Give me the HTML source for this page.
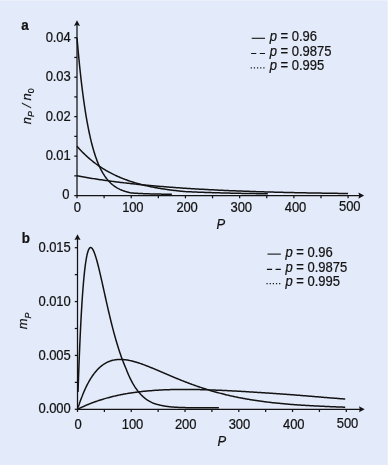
<!DOCTYPE html>
<html lang="en">
<head>
<meta charset="utf-8">
<title>Chain length distributions</title>
<style>
html,body{margin:0;padding:0;background:#e3eaf9;}
body{width:388px;height:465px;overflow:hidden;font-family:"Liberation Sans",Arial,sans-serif;}
svg{display:block;}
</style>
</head>
<body>
<svg width="388" height="465" viewBox="0 0 388 465">
<rect width="388" height="465" fill="#e3eaf9"/>
<rect width="388" height="1" fill="#ebf0fb"/>
<rect x="387" width="1" height="465" fill="#eaeffa"/>
<g stroke="#131313" stroke-width="1.25" fill="none">
<line x1="77.0" y1="195.6" x2="77.0" y2="24.5"/>
<line x1="77.0" y1="195.6" x2="359.8" y2="195.6"/>
<line x1="77.00" y1="195.6" x2="77.00" y2="198.29999999999998"/>
<line x1="131.22" y1="195.6" x2="131.22" y2="198.29999999999998"/>
<line x1="185.44" y1="195.6" x2="185.44" y2="198.29999999999998"/>
<line x1="239.66" y1="195.6" x2="239.66" y2="198.29999999999998"/>
<line x1="293.88" y1="195.6" x2="293.88" y2="198.29999999999998"/>
<line x1="348.10" y1="195.6" x2="348.10" y2="198.29999999999998"/>
<line x1="104.11" y1="195.6" x2="104.11" y2="198.29999999999998"/>
<line x1="158.33" y1="195.6" x2="158.33" y2="198.29999999999998"/>
<line x1="212.55" y1="195.6" x2="212.55" y2="198.29999999999998"/>
<line x1="266.77" y1="195.6" x2="266.77" y2="198.29999999999998"/>
<line x1="320.99" y1="195.6" x2="320.99" y2="198.29999999999998"/>
<line x1="77.0" y1="195.60" x2="74.3" y2="195.60"/>
<line x1="77.0" y1="156.12" x2="74.3" y2="156.12"/>
<line x1="77.0" y1="116.65" x2="74.3" y2="116.65"/>
<line x1="77.0" y1="77.18" x2="74.3" y2="77.18"/>
<line x1="77.0" y1="37.70" x2="74.3" y2="37.70"/>
<line x1="77.0" y1="175.86" x2="74.3" y2="175.86"/>
<line x1="77.0" y1="136.39" x2="74.3" y2="136.39"/>
<line x1="77.0" y1="96.91" x2="74.3" y2="96.91"/>
<line x1="77.0" y1="57.44" x2="74.3" y2="57.44"/>
</g>
<path d="M77.0,20.2 L80.05,25.9 L77.0,25.1 L73.95,25.9 Z" fill="#131313"/>
<path d="M364.1,195.6 L358.40000000000003,192.54999999999998 L359.2,195.6 L358.40000000000003,198.65 Z" fill="#131313"/>
<g fill="none" stroke="#131313" stroke-width="1.5" stroke-linejoin="round" stroke-linecap="butt">
<path d="M77.00,37.70 L77.48,43.27 L77.95,48.64 L78.43,53.82 L78.91,58.82 L79.38,63.64 L79.86,68.30 L80.34,72.79 L80.81,77.12 L81.29,81.29 L81.77,85.33 L82.24,89.21 L82.72,92.97 L83.20,96.58 L83.68,100.08 L84.15,103.44 L84.63,106.69 L85.11,109.83 L85.58,112.85 L86.06,115.77 L86.54,118.59 L87.01,121.30 L87.49,123.92 L87.97,126.45 L88.44,128.89 L88.92,131.24 L89.40,133.51 L89.87,135.70 L90.35,137.81 L90.83,139.85 L91.30,141.81 L91.78,143.71 L92.26,145.54 L92.73,147.31 L93.21,149.01 L93.69,150.65 L94.17,152.24 L94.64,153.77 L95.12,155.24 L95.60,156.66 L96.07,158.04 L96.55,159.36 L97.03,160.64 L97.50,161.87 L97.98,163.06 L98.46,164.21 L98.93,165.32 L99.41,166.38 L99.89,167.41 L100.36,168.41 L100.84,169.37 L101.32,170.29 L101.79,171.18 L102.27,172.05 L102.75,172.88 L103.22,173.68 L103.70,174.45 L104.18,175.20 L104.65,175.92 L105.13,176.61 L105.61,177.28 L106.09,177.93 L106.56,178.55 L107.04,179.15 L107.52,179.73 L107.99,180.29 L108.47,180.83 L108.95,181.35 L109.42,181.85 L109.90,182.34 L110.38,182.81 L110.85,183.26 L111.33,183.69 L111.81,184.11 L112.28,184.52 L112.76,184.91 L113.24,185.28 L113.71,185.65 L114.19,186.00 L114.67,186.34 L115.14,186.66 L115.62,186.98 L116.10,187.28 L116.58,187.58 L117.05,187.86 L117.53,188.13 L118.01,188.40 L118.48,188.65 L118.96,188.89 L119.44,189.13 L119.91,189.36 L120.39,189.58 L120.87,189.79 L121.34,190.00 L121.82,190.19 L122.30,190.38 L122.77,190.57 L123.25,190.75 L123.73,190.92 L124.20,191.08 L124.68,191.24 L125.16,191.40 L125.63,191.54 L126.11,191.69 L126.59,191.82 L127.06,191.96 L127.54,192.09 L128.02,192.21 L128.50,192.33 L128.97,192.44 L129.45,192.56 L129.93,192.66 L130.40,192.77 L130.88,192.87 L131.36,192.95 L131.83,192.98 L132.31,193.01 L132.79,193.05 L133.26,193.08 L133.74,193.11 L134.22,193.14 L134.69,193.17 L135.17,193.21 L135.65,193.24 L136.12,193.26 L136.60,193.29 L137.08,193.32 L137.55,193.35 L138.03,193.38 L138.51,193.40 L138.99,193.43 L139.46,193.45 L139.94,193.48 L140.42,193.50 L140.89,193.53 L141.37,193.55 L141.85,193.57 L142.32,193.60 L142.80,193.62 L143.28,193.64 L143.75,193.66 L144.23,193.68 L144.71,193.70 L145.18,193.72 L145.66,193.74 L146.14,193.75 L146.61,193.77 L147.09,193.79 L147.57,193.81 L148.04,193.82 L148.52,193.84 L149.00,193.85 L149.47,193.87 L149.95,193.88 L150.43,193.90 L150.91,193.91 L151.38,193.92 L151.86,193.94 L152.34,193.95 L152.81,193.96 L153.29,193.97 L153.77,193.99 L154.24,194.00 L154.72,194.01 L155.20,194.02 L155.67,194.03 L156.15,194.04 L156.63,194.05 L157.10,194.06 L157.58,194.07 L158.06,194.08 L158.53,194.09 L159.01,194.09 L159.49,194.10 L159.96,194.11 L160.44,194.12 L160.92,194.12 L161.40,194.13 L161.87,194.14 L162.35,194.15 L162.83,194.15 L163.30,194.16 L163.78,194.16 L164.26,194.17 L164.73,194.18 L165.21,194.18 L165.69,194.19 L166.16,194.19 L166.64,194.20 L167.12,194.20 L167.59,194.21 L168.07,194.21 L168.55,194.22 L169.02,194.22 L169.50,194.23 L169.98,194.23 L170.45,194.23 L170.93,194.24 L171.41,194.24 L171.88,194.24"/>
<path d="M77.00,146.26 L77.96,147.34 L78.92,148.40 L79.88,149.44 L80.84,150.46 L81.80,151.45 L82.75,152.42 L83.71,153.37 L84.67,154.30 L85.63,155.21 L86.59,156.10 L87.55,156.97 L88.51,157.82 L89.47,158.65 L90.43,159.46 L91.39,160.26 L92.35,161.04 L93.30,161.80 L94.26,162.54 L95.22,163.27 L96.18,163.98 L97.14,164.68 L98.10,165.36 L99.06,166.02 L100.02,166.67 L100.98,167.31 L101.94,167.93 L102.89,168.54 L103.85,169.14 L104.81,169.72 L105.77,170.29 L106.73,170.84 L107.69,171.39 L108.65,171.92 L109.61,172.44 L110.57,172.95 L111.53,173.45 L112.49,173.94 L113.44,174.41 L114.40,174.88 L115.36,175.34 L116.32,175.78 L117.28,176.22 L118.24,176.65 L119.20,177.06 L120.16,177.47 L121.12,177.87 L122.08,178.26 L123.04,178.64 L123.99,179.01 L124.95,179.38 L125.91,179.74 L126.87,180.08 L127.83,180.43 L128.79,180.76 L129.75,181.09 L130.71,181.41 L131.67,181.72 L132.63,182.02 L133.58,182.32 L134.54,182.61 L135.50,182.90 L136.46,183.18 L137.42,183.45 L138.38,183.72 L139.34,183.98 L140.30,184.24 L141.26,184.49 L142.22,184.73 L143.18,184.97 L144.13,185.21 L145.09,185.43 L146.05,185.66 L147.01,185.88 L147.97,186.09 L148.93,186.30 L149.89,186.50 L150.85,186.70 L151.81,186.90 L152.77,187.09 L153.73,187.28 L154.68,187.46 L155.64,187.64 L156.60,187.82 L157.56,187.99 L158.52,188.15 L159.48,188.32 L160.44,188.48 L161.40,188.64 L162.36,188.79 L163.32,188.94 L164.28,189.09 L165.23,189.23 L166.19,189.37 L167.15,189.51 L168.11,189.64 L169.07,189.77 L170.03,189.90 L170.99,190.02 L171.95,190.15 L172.91,190.27 L173.87,190.38 L174.82,190.50 L175.78,190.61 L176.74,190.72 L177.70,190.83 L178.66,190.93 L179.62,191.04 L180.58,191.14 L181.54,191.24 L182.50,191.33 L183.46,191.43 L184.42,191.52 L185.37,191.61 L186.33,191.65 L187.29,191.69 L188.25,191.74 L189.21,191.78 L190.17,191.82 L191.13,191.86 L192.09,191.90 L193.05,191.94 L194.01,191.98 L194.97,192.02 L195.92,192.06 L196.88,192.09 L197.84,192.13 L198.80,192.17 L199.76,192.21 L200.72,192.24 L201.68,192.28 L202.64,192.31 L203.60,192.35 L204.56,192.38 L205.52,192.42 L206.47,192.45 L207.43,192.48 L208.39,192.52 L209.35,192.55 L210.31,192.58 L211.27,192.61 L212.23,192.64 L213.19,192.67 L214.15,192.70 L215.11,192.73 L216.06,192.76 L217.02,192.79 L217.98,192.82 L218.94,192.85 L219.90,192.87 L220.86,192.90 L221.82,192.93 L222.78,192.95 L223.74,192.98 L224.70,193.00 L225.66,193.03 L226.61,193.05 L227.57,193.07 L228.53,193.10 L229.49,193.12 L230.45,193.14 L231.41,193.17 L232.37,193.19 L233.33,193.21 L234.29,193.23 L235.25,193.25 L236.21,193.27 L237.16,193.29 L238.12,193.31 L239.08,193.33 L240.04,193.35 L241.00,193.37 L241.96,193.39 L242.92,193.41 L243.88,193.42 L244.84,193.44 L245.80,193.46 L246.75,193.47 L247.71,193.49 L248.67,193.51 L249.63,193.52 L250.59,193.54 L251.55,193.55 L252.51,193.57 L253.47,193.58 L254.43,193.60 L255.39,193.61 L256.35,193.63 L257.30,193.64 L258.26,193.65 L259.22,193.67 L260.18,193.68 L261.14,193.69 L262.10,193.70 L263.06,193.72 L264.02,193.73 L264.98,193.74 L265.94,193.75 L266.90,193.76 L267.85,193.77"/>
<path d="M77.00,175.86 L78.36,176.11 L79.72,176.35 L81.09,176.59 L82.45,176.83 L83.81,177.07 L85.17,177.30 L86.54,177.53 L87.90,177.75 L89.26,177.98 L90.62,178.20 L91.99,178.41 L93.35,178.63 L94.71,178.84 L96.07,179.05 L97.43,179.26 L98.80,179.46 L100.16,179.66 L101.52,179.86 L102.88,180.06 L104.25,180.25 L105.61,180.44 L106.97,180.63 L108.33,180.82 L109.70,181.00 L111.06,181.19 L112.42,181.37 L113.78,181.54 L115.14,181.72 L116.51,181.89 L117.87,182.06 L119.23,182.23 L120.59,182.40 L121.96,182.56 L123.32,182.72 L124.68,182.88 L126.04,183.04 L127.41,183.20 L128.77,183.35 L130.13,183.50 L131.49,183.65 L132.85,183.80 L134.22,183.95 L135.58,184.09 L136.94,184.24 L138.30,184.38 L139.67,184.51 L141.03,184.65 L142.39,184.79 L143.75,184.92 L145.12,185.05 L146.48,185.18 L147.84,185.31 L149.20,185.44 L150.56,185.56 L151.93,185.69 L153.29,185.81 L154.65,185.93 L156.01,186.05 L157.38,186.17 L158.74,186.28 L160.10,186.40 L161.46,186.51 L162.83,186.62 L164.19,186.73 L165.55,186.84 L166.91,186.95 L168.27,187.05 L169.64,187.16 L171.00,187.26 L172.36,187.36 L173.72,187.46 L175.09,187.56 L176.45,187.66 L177.81,187.76 L179.17,187.85 L180.54,187.95 L181.90,188.04 L183.26,188.13 L184.62,188.22 L185.98,188.31 L187.35,188.40 L188.71,188.49 L190.07,188.57 L191.43,188.66 L192.80,188.74 L194.16,188.82 L195.52,188.91 L196.88,188.99 L198.25,189.07 L199.61,189.14 L200.97,189.22 L202.33,189.30 L203.69,189.37 L205.06,189.45 L206.42,189.52 L207.78,189.59 L209.14,189.66 L210.51,189.73 L211.87,189.80 L213.23,189.87 L214.59,189.94 L215.96,190.01 L217.32,190.07 L218.68,190.14 L220.04,190.20 L221.41,190.26 L222.77,190.33 L224.13,190.39 L225.49,190.45 L226.85,190.51 L228.22,190.57 L229.58,190.63 L230.94,190.68 L232.30,190.74 L233.67,190.80 L235.03,190.85 L236.39,190.91 L237.75,190.96 L239.12,191.01 L240.48,191.06 L241.84,191.12 L243.20,191.17 L244.56,191.22 L245.93,191.27 L247.29,191.31 L248.65,191.36 L250.01,191.41 L251.38,191.46 L252.74,191.50 L254.10,191.55 L255.46,191.59 L256.83,191.64 L258.19,191.68 L259.55,191.72 L260.91,191.77 L262.27,191.81 L263.64,191.85 L265.00,191.89 L266.36,191.93 L267.72,191.97 L269.09,192.01 L270.45,192.04 L271.81,192.08 L273.17,192.12 L274.54,192.16 L275.90,192.19 L277.26,192.23 L278.62,192.26 L279.98,192.30 L281.35,192.33 L282.71,192.37 L284.07,192.40 L285.43,192.43 L286.80,192.46 L288.16,192.49 L289.52,192.53 L290.88,192.56 L292.25,192.59 L293.61,192.62 L294.97,192.65 L296.33,192.67 L297.69,192.70 L299.06,192.73 L300.42,192.76 L301.78,192.79 L303.14,192.81 L304.51,192.84 L305.87,192.86 L307.23,192.89 L308.59,192.92 L309.96,192.94 L311.32,192.96 L312.68,192.99 L314.04,193.01 L315.40,193.04 L316.77,193.06 L318.13,193.08 L319.49,193.10 L320.85,193.12 L322.22,193.15 L323.58,193.17 L324.94,193.19 L326.30,193.21 L327.67,193.23 L329.03,193.25 L330.39,193.27 L331.75,193.29 L333.11,193.30 L334.48,193.32 L335.84,193.34 L337.20,193.36 L338.56,193.38 L339.93,193.39 L341.29,193.41 L342.65,193.43 L344.01,193.44 L345.38,193.46 L346.74,193.47 L348.10,193.49"/>
</g>
<g stroke="#131313" stroke-width="1.25" fill="none">
<line x1="77.5" y1="409.3" x2="77.5" y2="238.6"/>
<line x1="77.5" y1="409.3" x2="360.4" y2="409.3"/>
<line x1="77.50" y1="409.3" x2="77.50" y2="412.0"/>
<line x1="131.26" y1="409.3" x2="131.26" y2="412.0"/>
<line x1="185.02" y1="409.3" x2="185.02" y2="412.0"/>
<line x1="238.78" y1="409.3" x2="238.78" y2="412.0"/>
<line x1="292.54" y1="409.3" x2="292.54" y2="412.0"/>
<line x1="346.30" y1="409.3" x2="346.30" y2="412.0"/>
<line x1="104.38" y1="409.3" x2="104.38" y2="412.0"/>
<line x1="158.14" y1="409.3" x2="158.14" y2="412.0"/>
<line x1="211.90" y1="409.3" x2="211.90" y2="412.0"/>
<line x1="265.66" y1="409.3" x2="265.66" y2="412.0"/>
<line x1="319.42" y1="409.3" x2="319.42" y2="412.0"/>
<line x1="77.5" y1="409.30" x2="74.8" y2="409.30"/>
<line x1="77.5" y1="355.43" x2="74.8" y2="355.43"/>
<line x1="77.5" y1="301.57" x2="74.8" y2="301.57"/>
<line x1="77.5" y1="247.70" x2="74.8" y2="247.70"/>
<line x1="77.5" y1="382.37" x2="74.8" y2="382.37"/>
<line x1="77.5" y1="328.50" x2="74.8" y2="328.50"/>
<line x1="77.5" y1="274.63" x2="74.8" y2="274.63"/>
</g>
<path d="M77.5,234.29999999999998 L80.55,240.0 L77.5,239.2 L74.45,240.0 Z" fill="#131313"/>
<path d="M364.7,409.3 L359.0,406.25 L359.79999999999995,409.3 L359.0,412.35 Z" fill="#131313"/>
<g fill="none" stroke="#131313" stroke-width="1.5" stroke-linejoin="round" stroke-linecap="butt">
<path d="M78.04,392.06 L78.16,388.28 L78.29,384.58 L78.41,380.94 L78.53,377.38 L78.66,373.88 L78.78,370.45 L78.91,367.09 L79.03,363.80 L79.15,360.57 L79.28,357.41 L79.40,354.31 L79.53,351.27 L79.65,348.30 L79.77,345.38 L79.90,342.53 L80.02,339.73 L80.15,337.00 L80.27,334.32 L80.39,331.69 L80.52,329.13 L80.64,326.62 L80.77,324.16 L80.89,321.75 L81.02,319.40 L81.14,317.10 L81.26,314.85 L81.39,312.65 L81.51,310.50 L81.64,308.40 L81.76,306.35 L81.88,304.34 L82.01,302.39 L82.13,300.47 L82.26,298.61 L82.38,296.78 L82.50,295.01 L82.63,293.27 L82.75,291.58 L82.88,289.93 L83.33,284.22 L83.79,279.04 L84.24,274.36 L84.70,270.14 L85.15,266.37 L85.61,263.01 L86.06,260.04 L86.52,257.45 L86.97,255.20 L87.42,253.28 L87.88,251.67 L88.33,250.35 L88.79,249.30 L89.24,248.51 L89.70,247.95 L90.15,247.62 L90.61,247.49 L91.06,247.56 L91.52,247.81 L91.97,248.23 L92.43,248.81 L92.88,249.53 L93.34,250.40 L93.79,251.38 L94.25,252.48 L94.70,253.69 L95.16,255.00 L95.61,256.40 L96.07,257.88 L96.52,259.44 L96.98,261.07 L97.43,262.75 L97.89,264.50 L98.34,266.29 L98.80,268.13 L99.25,270.01 L99.71,271.93 L100.16,273.87 L100.62,275.85 L101.07,277.84 L101.53,279.85 L101.98,281.88 L102.44,283.92 L102.89,285.97 L103.35,288.02 L103.80,290.08 L104.26,292.13 L104.71,294.18 L105.17,296.23 L105.62,298.28 L106.08,300.31 L106.53,302.34 L106.99,304.35 L107.44,306.35 L107.90,308.33 L108.35,310.30 L108.80,312.25 L109.26,314.18 L109.71,316.10 L110.17,317.99 L110.62,319.86 L111.08,321.71 L111.53,323.54 L111.99,325.34 L112.44,327.12 L112.90,328.88 L113.35,330.61 L113.81,332.32 L114.26,334.00 L114.72,335.66 L115.17,337.29 L115.63,338.89 L116.08,340.47 L116.54,342.03 L116.99,343.55 L117.45,345.05 L117.90,346.53 L118.36,347.98 L118.81,349.40 L119.27,350.80 L119.72,352.17 L120.18,353.51 L120.63,354.83 L121.09,356.13 L121.54,357.39 L122.00,358.64 L122.45,359.86 L122.91,361.05 L123.36,362.23 L123.82,363.37 L124.27,364.50 L124.73,365.60 L125.18,366.67 L125.64,367.73 L126.09,368.84 L126.55,370.02 L127.00,371.17 L127.46,372.29 L127.91,373.38 L128.37,374.44 L128.82,375.47 L129.28,376.48 L129.73,377.46 L130.18,378.41 L130.64,379.34 L131.09,380.24 L131.55,381.12 L132.00,381.97 L132.46,382.80 L132.91,383.61 L133.37,384.39 L133.82,385.15 L134.28,385.90 L134.73,386.62 L135.19,387.31 L135.64,387.99 L136.10,388.65 L136.55,389.29 L137.01,389.92 L137.46,390.52 L137.92,391.11 L138.37,391.68 L138.83,392.23 L139.28,392.77 L139.74,393.29 L140.19,393.79 L140.65,394.28 L141.10,394.76 L141.56,395.22 L142.01,395.67 L142.47,396.10 L142.92,396.52 L143.38,396.93 L143.83,397.32 L144.29,397.71 L144.74,398.08 L145.20,398.44 L145.65,398.79 L146.11,399.12 L146.56,399.45 L147.02,399.76 L147.47,400.07 L147.93,400.37 L148.38,400.65 L148.84,400.93 L149.29,401.20 L149.75,401.46 L150.20,401.71 L150.65,401.95 L151.11,402.19 L151.56,402.41 L152.02,402.63 L152.47,402.84 L152.93,403.04 L153.38,403.20 L153.84,403.36 L154.29,403.52 L154.75,403.67 L155.20,403.82 L155.66,403.96 L156.11,404.10 L156.57,404.24 L157.02,404.37 L157.48,404.50 L157.93,404.62 L158.39,404.74 L158.84,404.85 L159.30,404.97 L159.75,405.08 L160.21,405.18 L160.66,405.28 L161.12,405.38 L161.57,405.48 L162.03,405.57 L162.48,405.66 L162.94,405.75 L163.39,405.83 L163.85,405.91 L164.30,405.99 L164.76,406.07 L165.21,406.14 L165.67,406.21 L166.12,406.28 L166.58,406.34 L167.03,406.41 L167.49,406.47 L167.94,406.53 L168.40,406.58 L168.85,406.64 L169.31,406.69 L169.76,406.74 L170.22,406.79 L170.67,406.84 L171.13,406.88 L171.58,406.93 L172.03,406.97 L172.49,407.01 L172.94,407.05 L173.40,407.08 L173.85,407.12 L174.31,407.15 L174.76,407.18 L175.22,407.21 L175.67,407.24 L176.13,407.27 L176.58,407.30 L177.04,407.32 L177.49,407.35 L177.95,407.37 L178.40,407.39 L178.86,407.42 L179.31,407.44 L179.77,407.46 L180.22,407.47 L180.68,407.49 L181.13,407.51 L181.59,407.52 L182.04,407.54 L182.50,407.55 L182.95,407.57 L183.41,407.58 L183.86,407.59 L184.32,407.60 L184.77,407.61 L185.23,407.62 L185.68,407.63 L186.14,407.64 L186.59,407.65 L187.05,407.66 L187.50,407.67 L187.96,407.68 L188.41,407.68 L188.87,407.69 L189.32,407.70 L189.78,407.70 L190.23,407.71 L190.69,407.71 L191.14,407.72 L191.60,407.72 L192.05,407.73 L192.51,407.73 L192.96,407.74 L193.41,407.74 L193.87,407.74 L194.32,407.75 L194.78,407.75 L195.23,407.75 L195.69,407.75 L196.14,407.76 L196.60,407.76 L197.05,407.76 L197.51,407.76 L197.96,407.77 L198.42,407.77 L198.87,407.77 L199.33,407.77 L199.78,407.77 L200.24,407.78 L200.69,407.78 L201.15,407.78 L201.60,407.78 L202.06,407.78 L202.51,407.78 L202.97,407.78 L203.42,407.78 L203.88,407.78 L204.33,407.79 L204.79,407.79 L205.24,407.79 L205.70,407.79 L206.15,407.79 L206.61,407.79 L207.06,407.79 L207.52,407.79 L207.97,407.79 L208.43,407.79 L208.88,407.79 L209.34,407.79 L209.79,407.79 L210.25,407.79 L210.70,407.79 L211.16,407.79 L211.61,407.79 L212.07,407.80 L212.52,407.80 L212.98,407.80 L213.43,407.80 L213.88,407.80 L214.34,407.80 L214.79,407.80 L215.25,407.80 L215.70,407.80 L216.16,407.80 L216.61,407.80 L217.07,407.80 L217.52,407.80 L217.98,407.80 L218.43,407.80 L218.89,407.80"/>
<path d="M78.04,407.62 L78.16,407.23 L78.29,406.85 L78.41,406.48 L78.53,406.10 L78.66,405.73 L78.78,405.36 L78.91,404.99 L79.03,404.62 L79.15,404.25 L79.28,403.89 L79.40,403.53 L79.53,403.17 L79.65,402.82 L79.77,402.46 L79.90,402.11 L80.02,401.76 L80.15,401.41 L80.27,401.07 L80.39,400.72 L80.52,400.38 L80.64,400.04 L80.77,399.70 L80.89,399.37 L81.02,399.03 L81.14,398.70 L81.26,398.37 L81.39,398.05 L81.51,397.72 L81.64,397.40 L81.76,397.08 L81.88,396.76 L82.01,396.44 L82.13,396.12 L82.26,395.81 L82.38,395.50 L82.50,395.19 L82.63,394.88 L82.75,394.57 L82.88,394.27 L83.75,392.17 L84.63,390.16 L85.51,388.25 L86.39,386.41 L87.26,384.67 L88.14,383.00 L89.02,381.41 L89.90,379.89 L90.77,378.45 L91.65,377.08 L92.53,375.78 L93.41,374.54 L94.28,373.37 L95.16,372.26 L96.04,371.21 L96.91,370.21 L97.79,369.28 L98.67,368.40 L99.55,367.57 L100.42,366.79 L101.30,366.06 L102.18,365.37 L103.06,364.74 L103.93,364.14 L104.81,363.59 L105.69,363.08 L106.57,362.61 L107.44,362.18 L108.32,361.79 L109.20,361.43 L110.08,361.10 L110.95,360.81 L111.83,360.55 L112.71,360.32 L113.59,360.12 L114.46,359.94 L115.34,359.80 L116.22,359.68 L117.10,359.59 L117.97,359.52 L118.85,359.47 L119.73,359.45 L120.61,359.45 L121.48,359.47 L122.36,359.51 L123.24,359.56 L124.11,359.64 L124.99,359.73 L125.87,359.84 L126.75,359.97 L127.62,360.11 L128.50,360.27 L129.38,360.44 L130.26,360.62 L131.13,360.82 L132.01,361.02 L132.89,361.24 L133.77,361.47 L134.64,361.72 L135.52,361.97 L136.40,362.23 L137.28,362.50 L138.15,362.77 L139.03,363.06 L139.91,363.35 L140.79,363.66 L141.66,363.96 L142.54,364.28 L143.42,364.60 L144.30,364.92 L145.17,365.25 L146.05,365.59 L146.93,365.93 L147.81,366.27 L148.68,366.62 L149.56,366.97 L150.44,367.33 L151.31,367.69 L152.19,368.05 L153.07,368.41 L153.95,368.78 L154.82,369.14 L155.70,369.51 L156.58,369.89 L157.46,370.26 L158.33,370.63 L159.21,371.01 L160.09,371.38 L160.97,371.76 L161.84,372.13 L162.72,372.51 L163.60,372.89 L164.48,373.26 L165.35,373.64 L166.23,374.01 L167.11,374.39 L167.99,374.76 L168.86,375.14 L169.74,375.51 L170.62,375.88 L171.50,376.25 L172.37,376.62 L173.25,376.99 L174.13,377.36 L175.01,377.72 L175.88,378.08 L176.76,378.45 L177.64,378.81 L178.51,379.16 L179.39,379.52 L180.27,379.87 L181.15,380.23 L182.02,380.58 L182.90,380.92 L183.78,381.27 L184.66,381.61 L185.53,381.95 L186.41,382.29 L187.29,382.63 L188.17,382.96 L189.04,383.29 L189.92,383.62 L190.80,383.94 L191.68,384.27 L192.55,384.59 L193.43,384.90 L194.31,385.22 L195.19,385.53 L196.06,385.84 L196.94,386.15 L197.82,386.45 L198.70,386.75 L199.57,387.05 L200.45,387.35 L201.33,387.64 L202.21,387.93 L203.08,388.21 L203.96,388.50 L204.84,388.78 L205.71,389.06 L206.59,389.33 L207.47,389.61 L208.35,389.88 L209.22,390.14 L210.10,390.41 L210.98,390.67 L211.86,390.93 L212.73,391.18 L213.61,391.44 L214.49,391.69 L215.37,391.93 L216.24,392.18 L217.12,392.42 L218.00,392.66 L218.88,392.90 L219.75,393.13 L220.63,393.36 L221.51,393.59 L222.39,393.81 L223.26,394.04 L224.14,394.26 L225.02,394.48 L225.90,394.69 L226.77,394.90 L227.65,395.11 L228.53,395.32 L229.41,395.52 L230.28,395.73 L231.16,395.92 L232.04,396.12 L232.91,396.32 L233.79,396.51 L234.67,396.70 L235.55,396.89 L236.42,397.07 L237.30,397.25 L238.18,397.43 L239.06,397.61 L239.93,397.78 L240.81,397.95 L241.69,398.11 L242.57,398.27 L243.44,398.43 L244.32,398.59 L245.20,398.75 L246.08,398.90 L246.95,399.06 L247.83,399.21 L248.71,399.35 L249.59,399.50 L250.46,399.64 L251.34,399.79 L252.22,399.93 L253.10,400.06 L253.97,400.20 L254.85,400.33 L255.73,400.46 L256.61,400.59 L257.48,400.72 L258.36,400.85 L259.24,400.97 L260.11,401.09 L260.99,401.22 L261.87,401.33 L262.75,401.45 L263.62,401.57 L264.50,401.68 L265.38,401.79 L266.26,401.90 L267.13,402.01 L268.01,402.12 L268.89,402.22 L269.77,402.33 L270.64,402.43 L271.52,402.53 L272.40,402.63 L273.28,402.73 L274.15,402.82 L275.03,402.92 L275.91,403.01 L276.79,403.10 L277.66,403.19 L278.54,403.28 L279.42,403.37 L280.30,403.45 L281.17,403.54 L282.05,403.62 L282.93,403.70 L283.81,403.78 L284.68,403.86 L285.56,403.94 L286.44,404.02 L287.32,404.09 L288.19,404.16 L289.07,404.24 L289.95,404.31 L290.82,404.38 L291.70,404.45 L292.58,404.52 L293.46,404.59 L294.33,404.65 L295.21,404.72 L296.09,404.78 L296.97,404.84 L297.84,404.90 L298.72,404.97 L299.60,405.02 L300.48,405.08 L301.35,405.14 L302.23,405.20 L303.11,405.25 L303.99,405.31 L304.86,405.36 L305.74,405.42 L306.62,405.47 L307.50,405.52 L308.37,405.57 L309.25,405.62 L310.13,405.67 L311.01,405.71 L311.88,405.76 L312.76,405.81 L313.64,405.85 L314.52,405.90 L315.39,405.94 L316.27,405.98 L317.15,406.02 L318.02,406.07 L318.90,406.11 L319.78,406.15 L320.66,406.19 L321.53,406.24 L322.41,406.28 L323.29,406.32 L324.17,406.36 L325.04,406.40 L325.92,406.44 L326.80,406.48 L327.68,406.52 L328.55,406.56 L329.43,406.60 L330.31,406.64 L331.19,406.67 L332.06,406.71 L332.94,406.75 L333.82,406.78 L334.70,406.81 L335.57,406.85 L336.45,406.88 L337.33,406.91 L338.21,406.95 L339.08,406.98 L339.96,407.01 L340.84,407.04 L341.72,407.07 L342.59,407.10 L343.47,407.13 L344.35,407.16 L345.22,407.18"/>
<path d="M78.04,409.03 L78.16,408.97 L78.29,408.91 L78.41,408.85 L78.53,408.78 L78.66,408.72 L78.78,408.66 L78.91,408.60 L79.03,408.54 L79.15,408.48 L79.28,408.42 L79.40,408.36 L79.53,408.30 L79.65,408.24 L79.77,408.18 L79.90,408.12 L80.02,408.06 L80.15,408.00 L80.27,407.94 L80.39,407.88 L80.52,407.82 L80.64,407.76 L80.77,407.70 L80.89,407.65 L81.02,407.59 L81.14,407.53 L81.26,407.47 L81.39,407.41 L81.51,407.35 L81.64,407.30 L81.76,407.24 L81.88,407.18 L82.01,407.12 L82.13,407.07 L82.26,407.01 L82.38,406.95 L82.50,406.90 L82.63,406.84 L82.75,406.78 L82.88,406.73 L83.75,406.33 L84.63,405.94 L85.51,405.56 L86.39,405.18 L87.26,404.81 L88.14,404.45 L89.02,404.09 L89.90,403.74 L90.77,403.39 L91.65,403.06 L92.53,402.72 L93.41,402.40 L94.28,402.07 L95.16,401.76 L96.04,401.45 L96.91,401.14 L97.79,400.84 L98.67,400.55 L99.55,400.26 L100.42,399.98 L101.30,399.70 L102.18,399.43 L103.06,399.16 L103.93,398.90 L104.81,398.64 L105.69,398.39 L106.57,398.14 L107.44,397.90 L108.32,397.66 L109.20,397.42 L110.08,397.19 L110.95,396.97 L111.83,396.75 L112.71,396.53 L113.59,396.32 L114.46,396.11 L115.34,395.91 L116.22,395.71 L117.10,395.52 L117.97,395.33 L118.85,395.14 L119.73,394.96 L120.61,394.78 L121.48,394.60 L122.36,394.43 L123.24,394.27 L124.11,394.10 L124.99,393.94 L125.87,393.79 L126.75,393.63 L127.62,393.48 L128.50,393.34 L129.38,393.20 L130.26,393.06 L131.13,392.92 L132.01,392.79 L132.89,392.66 L133.77,392.53 L134.64,392.41 L135.52,392.29 L136.40,392.18 L137.28,392.06 L138.15,391.95 L139.03,391.84 L139.91,391.74 L140.79,391.64 L141.66,391.54 L142.54,391.44 L143.42,391.35 L144.30,391.26 L145.17,391.17 L146.05,391.08 L146.93,391.00 L147.81,390.92 L148.68,390.84 L149.56,390.77 L150.44,390.70 L151.31,390.63 L152.19,390.56 L153.07,390.49 L153.95,390.43 L154.82,390.37 L155.70,390.31 L156.58,390.25 L157.46,390.20 L158.33,390.15 L159.21,390.09 L160.09,390.05 L160.97,390.00 L161.84,389.96 L162.72,389.91 L163.60,389.87 L164.48,389.84 L165.35,389.80 L166.23,389.77 L167.11,389.73 L167.99,389.70 L168.86,389.67 L169.74,389.65 L170.62,389.62 L171.50,389.60 L172.37,389.58 L173.25,389.56 L174.13,389.54 L175.01,389.52 L175.88,389.51 L176.76,389.49 L177.64,389.48 L178.51,389.47 L179.39,389.46 L180.27,389.45 L181.15,389.45 L182.02,389.44 L182.90,389.44 L183.78,389.43 L184.66,389.43 L185.53,389.43 L186.41,389.44 L187.29,389.44 L188.17,389.44 L189.04,389.45 L189.92,389.46 L190.80,389.46 L191.68,389.47 L192.55,389.48 L193.43,389.50 L194.31,389.51 L195.19,389.52 L196.06,389.54 L196.94,389.55 L197.82,389.57 L198.70,389.59 L199.57,389.61 L200.45,389.63 L201.33,389.65 L202.21,389.67 L203.08,389.69 L203.96,389.72 L204.84,389.74 L205.71,389.77 L206.59,389.79 L207.47,389.82 L208.35,389.85 L209.22,389.88 L210.10,389.91 L210.98,389.94 L211.86,389.97 L212.73,390.00 L213.61,390.04 L214.49,390.07 L215.37,390.10 L216.24,390.14 L217.12,390.18 L218.00,390.21 L218.88,390.25 L219.75,390.29 L220.63,390.33 L221.51,390.37 L222.39,390.41 L223.26,390.45 L224.14,390.49 L225.02,390.53 L225.90,390.57 L226.77,390.61 L227.65,390.66 L228.53,390.70 L229.41,390.74 L230.28,390.79 L231.16,390.84 L232.04,390.88 L232.91,390.93 L233.79,390.97 L234.67,391.02 L235.55,391.07 L236.42,391.12 L237.30,391.17 L238.18,391.21 L239.06,391.26 L239.93,391.31 L240.81,391.36 L241.69,391.41 L242.57,391.47 L243.44,391.52 L244.32,391.57 L245.20,391.62 L246.08,391.67 L246.95,391.73 L247.83,391.78 L248.71,391.83 L249.59,391.89 L250.46,391.94 L251.34,391.99 L252.22,392.05 L253.10,392.10 L253.97,392.16 L254.85,392.21 L255.73,392.27 L256.61,392.32 L257.48,392.38 L258.36,392.43 L259.24,392.49 L260.11,392.55 L260.99,392.60 L261.87,392.66 L262.75,392.72 L263.62,392.78 L264.50,392.83 L265.38,392.89 L266.26,392.95 L267.13,393.01 L268.01,393.06 L268.89,393.12 L269.77,393.18 L270.64,393.24 L271.52,393.30 L272.40,393.36 L273.28,393.41 L274.15,393.47 L275.03,393.53 L275.91,393.59 L276.79,393.65 L277.66,393.71 L278.54,393.77 L279.42,393.83 L280.30,393.89 L281.17,393.95 L282.05,394.01 L282.93,394.07 L283.81,394.13 L284.68,394.20 L285.56,394.26 L286.44,394.33 L287.32,394.39 L288.19,394.46 L289.07,394.53 L289.95,394.60 L290.82,394.66 L291.70,394.73 L292.58,394.80 L293.46,394.87 L294.33,394.94 L295.21,395.01 L296.09,395.08 L296.97,395.15 L297.84,395.22 L298.72,395.29 L299.60,395.36 L300.48,395.44 L301.35,395.51 L302.23,395.58 L303.11,395.65 L303.99,395.72 L304.86,395.79 L305.74,395.86 L306.62,395.94 L307.50,396.01 L308.37,396.08 L309.25,396.15 L310.13,396.22 L311.01,396.30 L311.88,396.37 L312.76,396.44 L313.64,396.51 L314.52,396.59 L315.39,396.66 L316.27,396.73 L317.15,396.80 L318.02,396.87 L318.90,396.95 L319.78,397.02 L320.66,397.09 L321.53,397.16 L322.41,397.23 L323.29,397.31 L324.17,397.38 L325.04,397.45 L325.92,397.52 L326.80,397.59 L327.68,397.66 L328.55,397.73 L329.43,397.81 L330.31,397.88 L331.19,397.95 L332.06,398.02 L332.94,398.09 L333.82,398.16 L334.70,398.23 L335.57,398.30 L336.45,398.37 L337.33,398.44 L338.21,398.51 L339.08,398.58 L339.96,398.65 L340.84,398.72 L341.72,398.79 L342.59,398.85 L343.47,398.92 L344.35,398.99 L345.22,399.06"/>
</g>
<g font-family="'Liberation Sans', Arial, sans-serif" font-size="13" fill="#131313" stroke="#131313" stroke-width="0.22">
<text transform="translate(69.30 199.20) scale(1 1.06)" text-anchor="end" letter-spacing="-0.12">0</text>
<text transform="translate(70.50 160.22) scale(1 1.06)" text-anchor="end" letter-spacing="-0.12">0.01</text>
<text transform="translate(70.50 120.75) scale(1 1.06)" text-anchor="end" letter-spacing="-0.12">0.02</text>
<text transform="translate(70.50 81.28) scale(1 1.06)" text-anchor="end" letter-spacing="-0.12">0.03</text>
<text transform="translate(70.50 41.80) scale(1 1.06)" text-anchor="end" letter-spacing="-0.12">0.04</text>
<text transform="translate(77.30 211.80) scale(1 1.06)" text-anchor="middle" letter-spacing="-0.12">0</text>
<text transform="translate(132.82 211.80) scale(1 1.06)" text-anchor="middle" letter-spacing="-0.12">100</text>
<text transform="translate(187.04 211.80) scale(1 1.06)" text-anchor="middle" letter-spacing="-0.12">200</text>
<text transform="translate(241.26 211.80) scale(1 1.06)" text-anchor="middle" letter-spacing="-0.12">300</text>
<text transform="translate(295.48 211.80) scale(1 1.06)" text-anchor="middle" letter-spacing="-0.12">400</text>
<text transform="translate(349.70 211.30) scale(1 1.06)" text-anchor="middle" letter-spacing="-0.12">500</text>
<text transform="translate(70.50 413.40) scale(1 1.06)" text-anchor="end" letter-spacing="-0.12">0.000</text>
<text transform="translate(70.50 359.53) scale(1 1.06)" text-anchor="end" letter-spacing="-0.12">0.005</text>
<text transform="translate(70.50 305.67) scale(1 1.06)" text-anchor="end" letter-spacing="-0.12">0.010</text>
<text transform="translate(70.50 251.80) scale(1 1.06)" text-anchor="end" letter-spacing="-0.12">0.015</text>
<text transform="translate(78.00 428.70) scale(1 1.06)" text-anchor="middle" letter-spacing="-0.12">0</text>
<text transform="translate(132.46 428.70) scale(1 1.06)" text-anchor="middle" letter-spacing="-0.12">100</text>
<text transform="translate(185.62 428.70) scale(1 1.06)" text-anchor="middle" letter-spacing="-0.12">200</text>
<text transform="translate(239.38 428.70) scale(1 1.06)" text-anchor="middle" letter-spacing="-0.12">300</text>
<text transform="translate(293.74 428.70) scale(1 1.06)" text-anchor="middle" letter-spacing="-0.12">400</text>
<text transform="translate(347.50 427.50) scale(1 1.06)" text-anchor="middle" letter-spacing="-0.12">500</text>
<text transform="translate(216.60 228.70) scale(1 1.06)" font-style="italic">P</text>
<text transform="translate(217.40 446.00) scale(1 1.06)" font-style="italic">P</text>
<text transform="translate(30.9,124.3) rotate(-90) scale(1 1.05)" font-style="italic">n<tspan font-size="8.8" dy="3.4">P</tspan><tspan dy="-3.4"> / n</tspan><tspan font-size="8.8" dy="3.4" font-style="normal">0</tspan></text>
<text transform="translate(27.3,329.3) rotate(-90) scale(1 1.05)" font-style="italic">m<tspan font-size="8.8" dy="3.4">P</tspan></text>
<text transform="translate(21.2 30) scale(1 1.06)" font-weight="bold" font-size="13.5">a</text>
<text transform="translate(21.8 242.6) scale(1 1.03)" font-weight="bold" font-size="13.4">b</text>
<text transform="translate(269.70 41.10) scale(1 1.06)" ><tspan font-style="italic">p</tspan> = 0.96</text>
<text transform="translate(269.70 56.10) scale(1 1.06)" ><tspan font-style="italic">p</tspan> = 0.9875</text>
<text transform="translate(269.70 70.40) scale(1 1.06)" ><tspan font-style="italic">p</tspan> = 0.995</text>
<text transform="translate(285.50 256.90) scale(1 1.06)" ><tspan font-style="italic">p</tspan> = 0.96</text>
<text transform="translate(285.50 271.90) scale(1 1.06)" ><tspan font-style="italic">p</tspan> = 0.9875</text>
<text transform="translate(285.50 286.20) scale(1 1.06)" ><tspan font-style="italic">p</tspan> = 0.995</text>
</g>
<g stroke="#131313" fill="none">
<line x1="251.7" y1="38.30" x2="265.00" y2="38.30" stroke-width="1.1"/>
<line x1="251.10" y1="53.50" x2="265.00" y2="53.50" stroke-width="1.15" stroke-dasharray="5.2 3.5"/>
<line x1="250.70" y1="67.90" x2="265.00" y2="67.90" stroke-width="1.2" stroke-dasharray="1.2 1.95"/>
</g>
<g stroke="#131313" fill="none">
<line x1="267.5" y1="254.10" x2="280.80" y2="254.10" stroke-width="1.1"/>
<line x1="266.90" y1="269.30" x2="280.80" y2="269.30" stroke-width="1.15" stroke-dasharray="5.2 3.5"/>
<line x1="266.50" y1="283.70" x2="280.80" y2="283.70" stroke-width="1.2" stroke-dasharray="1.2 1.95"/>
</g>
</svg>
</body>
</html>
